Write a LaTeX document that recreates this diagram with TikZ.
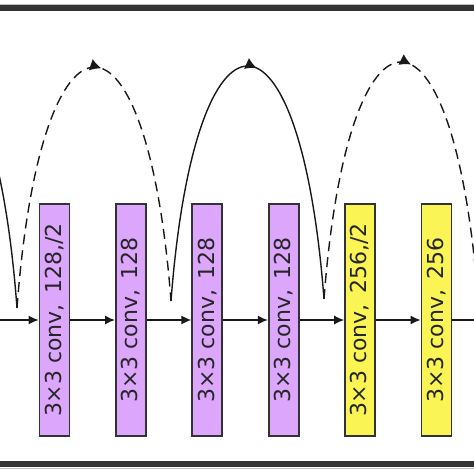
\documentclass[tikz,border=0pt]{standalone}
\usepackage{fontspec}
\setmainfont{DejaVu Sans}
\usetikzlibrary{arrows.meta,decorations.markings}
\definecolor{purp}{RGB}{220,166,252}
\definecolor{yell}{RGB}{250,245,85}
\definecolor{edge}{RGB}{51,51,51}
\tikzset{
  convbox/.style={draw=edge, line width=1.8pt, minimum width=30pt, minimum height=232pt, inner sep=0pt, text=black!85,
    font=\fontsize{22}{26}\selectfont},
  conn/.style={line width=1.4pt, black!90, -{Latex[length=10pt,width=9pt]}},
  arc/.style={line width=1.4pt, black!90,
    postaction={decorate, decoration={markings, mark=at position 0.52 with {\arrow{Latex[length=11pt,width=12pt]}}}}},
  dasharc/.style={arc, dash pattern=on 10pt off 6pt},
  bar/.style={fill=edge, draw=none}
}
\begin{document}
\begin{tikzpicture}[x=1pt, y=-1pt]
\useasboundingbox (0,0) rectangle (474,474);
\clip (0,0) rectangle (474,474);
\fill[white] (0,0) rectangle (474,474);
% frame bars
\draw[black!25, line width=1pt] (0,4) -- (474,4);
\fill[bar] (0,5) rectangle (474,11);
\fill[bar] (0,461) rectangle (474,467);
\draw[black!25, line width=1pt] (0,468) -- (474,468);
% boxes
\node[convbox, fill=purp] (b1) at (54.5,320) {\rotatebox{90}{3×3 conv,\, 128,/2}};
\node[convbox, fill=purp] (b2) at (130.9,320) {\rotatebox{90}{3×3 conv,\, 128}};
\node[convbox, fill=purp] (b3) at (207.3,320) {\rotatebox{90}{3×3 conv,\, 128}};
\node[convbox, fill=purp] (b4) at (283.7,320) {\rotatebox{90}{3×3 conv,\, 128}};
\node[convbox, fill=yell] (b5) at (360.1,320) {\rotatebox{90}{3×3 conv,\, 256,/2}};
\node[convbox, fill=yell] (b6) at (436.5,320) {\rotatebox{90}{3×3 conv,\, 256}};
% off-picture ends
\coordinate (b0) at (-20,320);
\coordinate (b7) at (500,320);
% junctions of the shortcuts
\coordinate (jm) at (-136,300);
\coordinate (j0) at (17,308);
\coordinate (j1) at (171,301);
\coordinate (j2) at (324,299);
\coordinate (j3) at (478,299);
% main chain
\draw[conn] (b0) -- (b1.west);
\draw[conn] (b1.east) -- (b2.west);
\draw[conn] (b2.east) -- (b3.west);
\draw[conn] (b3.east) -- (b4.west);
\draw[conn] (b4.east) -- (b5.west);
\draw[conn] (b5.east) -- (b6.west);
\draw[line width=1.4pt, black!90] (b6.east) -- (b7);
% shortcuts
\draw[arc] (jm) .. controls (-112,-12) and (-7,-12) .. (j0);
\draw[dasharc] (j0) .. controls (41,-12) and (147,-12) .. (j1);
\draw[arc] (j1) .. controls (195,-12) and (300,-12) .. (j2);
\draw[dasharc] (j2) .. controls (348,-17) and (454,-17) .. (j3);
\end{tikzpicture}
\end{document}
